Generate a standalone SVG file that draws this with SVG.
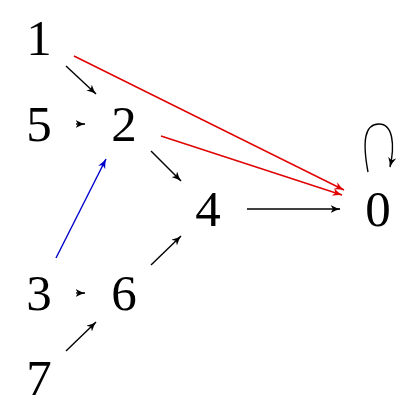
<svg xmlns="http://www.w3.org/2000/svg" width="417" height="417" viewBox="0 0 417 417">
<style>
.lbl{font-family:"Liberation Serif","Times New Roman",serif;font-size:51px;fill:#000;text-anchor:middle}
.e{fill:none;stroke-width:1.4}
.k{stroke:#000;marker-end:url(#ak)}
.r{stroke:#e00000;marker-end:url(#ar)}
.b{stroke:#0000cc;marker-end:url(#ab)}
</style>
<defs>
<marker id="ak" viewBox="0 0 10 8" refX="9.5" refY="4" markerWidth="10" markerHeight="8" markerUnits="userSpaceOnUse" orient="auto">
<path d="M0,0 Q5,3 10,4 Q5,5 0,8 L2.5,4 Z" fill="#000"/>
</marker>
<marker id="ar" viewBox="0 0 10 8" refX="9.5" refY="4" markerWidth="10" markerHeight="8" markerUnits="userSpaceOnUse" orient="auto">
<path d="M0,0 Q5,3 10,4 Q5,5 0,8 L2.5,4 Z" fill="#e00000"/>
</marker>
<marker id="ab" viewBox="0 0 10 8" refX="9.5" refY="4" markerWidth="10" markerHeight="8" markerUnits="userSpaceOnUse" orient="auto">
<path d="M0,0 Q5,3 10,4 Q5,5 0,8 L2.5,4 Z" fill="#0000cc"/>
</marker>
</defs>
<rect width="417" height="417" fill="#fff"/>
<g id="connectors">
<line class="e k" x1="66" y1="66" x2="96" y2="94"/>
<line class="e k" x1="76" y1="124" x2="85" y2="124"/>
<line class="e k" x1="151" y1="151" x2="181" y2="181"/>
<line class="e b" x1="56" y1="258" x2="106" y2="159"/>
<line class="e k" x1="76" y1="293" x2="85" y2="293"/>
<line class="e k" x1="66" y1="351" x2="96" y2="322"/>
<line class="e k" x1="151" y1="265" x2="181" y2="236"/>
<line class="e k" x1="247" y1="209" x2="340" y2="209"/>
<line class="e r" x1="74" y1="56" x2="344" y2="190"/>
<line class="e r" x1="161" y1="136" x2="342" y2="195"/>
<path class="e k" d="M368,172 C362,140 365,124 379,124 C393,124 395,145 390,167"/>
</g>
<g id="n1"><text class="lbl" x="39" y="55">1</text></g>
<g id="n5"><text class="lbl" x="39" y="141">5</text></g>
<g id="n2"><text class="lbl" x="124" y="141">2</text></g>
<g id="n4"><text class="lbl" x="208" y="226">4</text></g>
<g id="n0"><text class="lbl" x="378" y="226">0</text></g>
<g id="n3"><text class="lbl" x="39" y="310">3</text></g>
<g id="n6"><text class="lbl" x="124" y="310">6</text></g>
<g id="n7"><text class="lbl" x="39" y="395">7</text></g>
</svg>
